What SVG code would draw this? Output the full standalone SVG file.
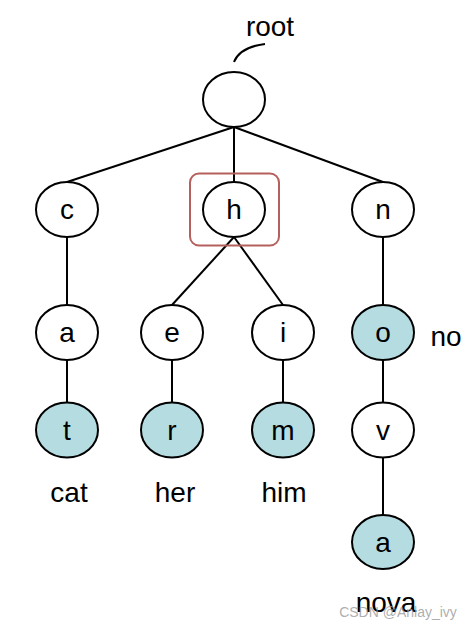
<svg xmlns="http://www.w3.org/2000/svg" width="470" height="629" viewBox="0 0 470 629">
<style>
.n{fill:#fff;stroke:#000;stroke-width:2}
.f{fill:#b5dde1;stroke:#000;stroke-width:2}
.t{font-family:"Liberation Sans",Arial,sans-serif;font-size:28px;fill:#000;text-anchor:middle}
.e{stroke:#000;stroke-width:2;fill:none}
</style>
<rect width="470" height="629" fill="#fff"/>
<g id="connectors">
<line class="e" x1="234" y1="127" x2="67" y2="182"/>
<line class="e" x1="234" y1="127" x2="234" y2="182"/>
<line class="e" x1="234" y1="127" x2="383" y2="182"/>
<line class="e" x1="67" y1="237" x2="67" y2="305"/>
<line class="e" x1="67" y1="360" x2="67" y2="403"/>
<line class="e" x1="234" y1="237" x2="172" y2="305"/>
<line class="e" x1="234" y1="237" x2="283" y2="305"/>
<line class="e" x1="172" y1="360" x2="172" y2="403"/>
<line class="e" x1="283" y1="360" x2="283" y2="403"/>
<line class="e" x1="383" y1="237" x2="383" y2="305"/>
<line class="e" x1="383" y1="360" x2="383" y2="403"/>
<line class="e" x1="383" y1="458" x2="383" y2="515"/>
<path class="e" d="M234,62 Q240,47 265,44"/>
</g>
<g id="root"><ellipse class="n" cx="234" cy="99.5" rx="31" ry="27.5"/><text class="t" x="270" y="36">root</text></g>
<g id="highlight"><rect x="190" y="173.5" width="89" height="72" rx="9" fill="none" stroke="#b5605c" stroke-width="2"/></g>
<g id="c"><ellipse class="n" cx="67" cy="209.5" rx="31" ry="27.5"/><text class="t" x="67" y="219">c</text></g>
<g id="h"><ellipse class="n" cx="234" cy="209.5" rx="31" ry="27.5"/><text class="t" x="234" y="219">h</text></g>
<g id="n"><ellipse class="n" cx="383" cy="209.5" rx="31" ry="27.5"/><text class="t" x="383" y="219">n</text></g>
<g id="a1"><ellipse class="n" cx="67" cy="332.5" rx="31" ry="27.5"/><text class="t" x="67" y="342">a</text></g>
<g id="e"><ellipse class="n" cx="172" cy="332.5" rx="31" ry="27.5"/><text class="t" x="172" y="342">e</text></g>
<g id="i"><ellipse class="n" cx="283" cy="332.5" rx="31" ry="27.5"/><text class="t" x="283" y="342">i</text></g>
<g id="o"><ellipse class="f" cx="383" cy="332.5" rx="31" ry="27.5"/><text class="t" x="383" y="342">o</text></g>
<g id="t"><ellipse class="f" cx="67" cy="430" rx="31" ry="27.5"/><text class="t" x="67" y="439.5">t</text></g>
<g id="r"><ellipse class="f" cx="172" cy="430" rx="31" ry="27.5"/><text class="t" x="172" y="439.5">r</text></g>
<g id="m"><ellipse class="f" cx="283" cy="430" rx="31" ry="27.5"/><text class="t" x="283" y="439.5">m</text></g>
<g id="v"><ellipse class="n" cx="383" cy="430" rx="31" ry="27.5"/><text class="t" x="383" y="439.5">v</text></g>
<g id="a2"><ellipse class="f" cx="383" cy="542" rx="31" ry="27"/><text class="t" x="383" y="551.5">a</text></g>
<g id="labels">
<text class="t" x="69" y="502">cat</text>
<text class="t" x="175" y="502">her</text>
<text class="t" x="284" y="502">him</text>
<text class="t" x="446" y="346">no</text>
<text class="t" x="386" y="612">nova</text>
<text x="398" y="617" font-family="Liberation Sans,Arial,sans-serif" font-size="14" fill="#999" fill-opacity="0.8" text-anchor="middle">CSDN @Anlay_ivy</text>
</g>
</svg>
